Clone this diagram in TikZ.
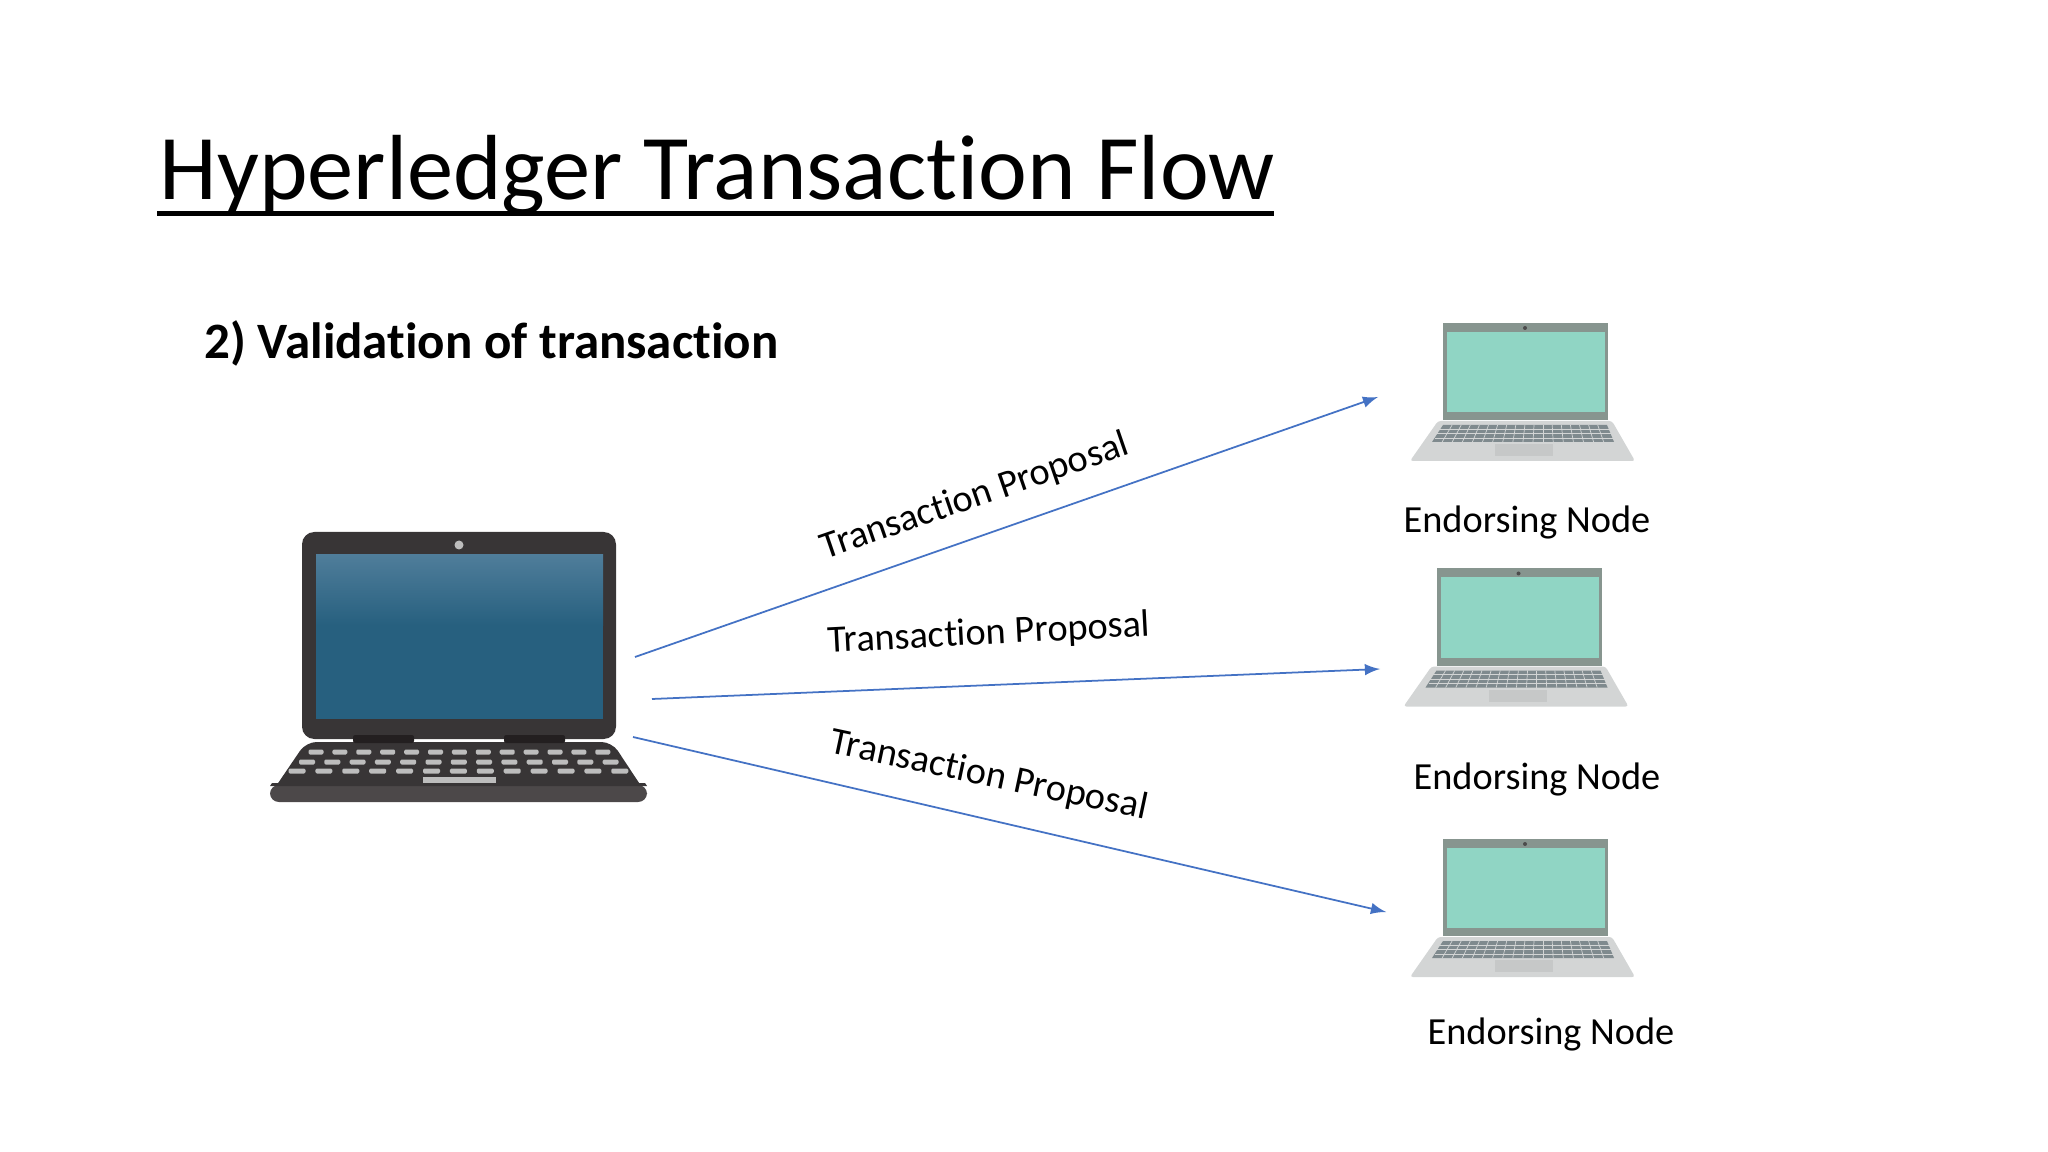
\documentclass[tikz,border=0pt]{standalone}
\usepackage{fontspec}
\setmainfont[Ligatures=NoCommon]{Carlito}
\usepackage{xcolor}
\definecolor{DarkCase}{HTML}{383536}
\definecolor{DarkBase}{HTML}{4C4849}
\definecolor{HingeBlack}{HTML}{231F20}
\definecolor{KeyGray}{HTML}{BDBDBD}
\definecolor{ScreenBlue}{HTML}{27607F}
\definecolor{ScreenTop}{HTML}{4F7D9A}
\definecolor{MintScreen}{HTML}{90D5C4}
\definecolor{LidGray}{HTML}{87958F}
\definecolor{BaseGray}{HTML}{D3D5D5}
\definecolor{PadGray}{HTML}{C6C8C8}
\definecolor{SmallKey}{HTML}{7F8A8E}
\definecolor{ArrowBlue}{HTML}{4472C4}
\tikzset{
    proposal/.style={font=\fontsize{10.9pt}{13pt}\selectfont},
    endorselabel/.style={font=\fontsize{10.9pt}{13pt}\selectfont},
    flow/.style={ArrowBlue,line width=0.5pt,-latex},
    endorser/.pic={
        \fill[BaseGray,rounded corners=0.8pt] (-5,98) -- (169,98) -- (192,138) -- (-33,138) -- cycle;
        \fill[LidGray] (0,0) rectangle (165,97);
        \fill[MintScreen] (4,9) rectangle (162,89);
        \fill[black!70] (82,5) circle (2);
        \fill[SmallKey] (0,102) -- (164,102) -- (171,119) -- (-11,119) -- cycle;
        \foreach \r in {106,110.5,115} \draw[BaseGray,line width=0.2pt] (-8,\r) -- (172,\r);
        \foreach \c in {1,...,17} \draw[BaseGray,line width=0.2pt] ({\c*9.1},102) -- ({-11+\c*10.1},119);
        \fill[PadGray] (52,121) rectangle (110,133);
    }
}
\begin{document}
\begin{tikzpicture}[x=0.01cm,y=-0.01cm]
    \useasboundingbox (0,0) rectangle (2048,1152);

    % headings
    \node[anchor=base west,inner sep=0pt,font=\fontsize{26.3pt}{30pt}\selectfont] (title) at (159,200) {Hyperledger Transaction Flow};
    \fill[black] (157,211) rectangle (1274,216);
    \node[anchor=base west,inner sep=0pt,font=\fontsize{14.5pt}{17pt}\selectfont\bfseries] (subtitle) at (204,359) {2) Validation of transaction};

    % client laptop
    \fill[DarkCase,rounded corners=3pt] (306,742) -- (612,742) -- (647,795) -- (270,795) -- cycle;
    \fill[DarkBase,rounded corners=2.5pt] (270,785) rectangle (647,802);
    \fill[DarkCase] (272,783) -- (645,783) -- (647,786) -- (270,786) -- cycle;
    \fill[DarkCase,rounded corners=3.5pt] (302,532) rectangle (616,739);
    \shade[top color=ScreenTop,bottom color=ScreenBlue] (316,555) rectangle (603,625);
    \fill[ScreenBlue] (316,625) rectangle (603,719);
    \fill[KeyGray] (459,545) circle (4.5);
    \fill[HingeBlack,rounded corners=0.6pt] (353,735) rectangle (414,743);
    \fill[HingeBlack,rounded corners=0.6pt] (504,735) rectangle (565,743);
    \foreach \k in {0,...,12} {
        \fill[KeyGray,rounded corners=0.4pt] ({308.5+\k*23.9},749.5) rectangle ++(15,5);
        \fill[KeyGray,rounded corners=0.4pt] ({299+\k*25.3},759.5) rectangle ++(16,5);
        \fill[KeyGray,rounded corners=0.4pt] ({288.5+\k*26.9},768.5) rectangle ++(17,5);
    }
    \fill[KeyGray] (423,777) rectangle (496,783);

    % endorsing laptops
    \pic at (1443,323) {endorser};
    \pic at (1436.5,568.5) {endorser};
    \pic at (1443,839) {endorser};

    \node[endorselabel] (enda) at (1527,522) {Endorsing Node};
    \node[endorselabel] (endb) at (1537,779) {Endorsing Node};
    \node[endorselabel] (endc) at (1551,1034) {Endorsing Node};

    % arrows
    \coordinate (starta) at (635,657);
    \coordinate (startb) at (652,699);
    \coordinate (startc) at (633,737);
    \coordinate (targeta) at (1378,397);
    \coordinate (targetb) at (1380,669);
    \coordinate (targetc) at (1386,912);
    \draw[flow] (starta) -- (targeta);
    \draw[flow] (startb) -- (targetb);
    \draw[flow] (startc) -- (targetc);

    \node[proposal,rotate=19] (propa) at (975,497) {Transaction Proposal};
    \node[proposal,rotate=3] (propb) at (989,634) {Transaction Proposal};
    \node[proposal,rotate=-12] (propc) at (989,776) {Transaction Proposal};
\end{tikzpicture}
\end{document}
